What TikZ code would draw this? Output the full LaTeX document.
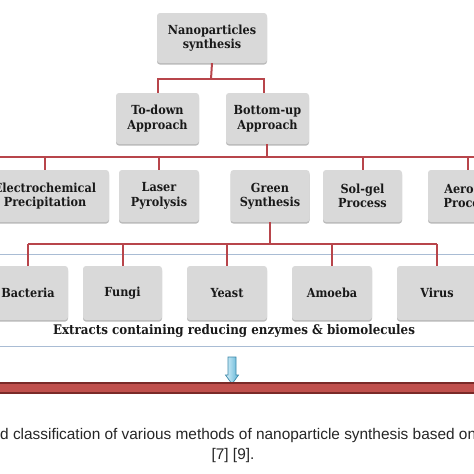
\documentclass[tikz,border=0pt]{standalone}
\usepackage{fontspec}
\setmainfont{DejaVu Serif Condensed}
\newfontfamily\capfont{Liberation Sans}
\usetikzlibrary{shadows}
\definecolor{conred}{HTML}{B8454B}
\definecolor{boxgray}{HTML}{D9D9D9}
\definecolor{rule}{HTML}{A9BCD4}
\definecolor{barred}{HTML}{C0504D}
\definecolor{bardark}{HTML}{7A2A28}
\definecolor{arrowlight}{HTML}{D6F0FA}
\definecolor{arrowdark}{HTML}{5FB4D6}
\definecolor{arrowline}{HTML}{3B87A8}
\tikzset{
  gbox/.style={fill=boxgray, rounded corners=3pt, inner sep=0pt, align=center,
    font=\bfseries\fontsize{12.5}{14.5}\selectfont, text=black!90,
    drop shadow={shadow xshift=0pt, shadow yshift=-1.6pt, fill=black!45, opacity=0.6}},
  conn/.style={draw=conred, line width=2pt},
}
\begin{document}
\begin{tikzpicture}[x=1pt,y=-1pt]
\useasboundingbox (0,0) rectangle (474,474);
\clip (0,0) rectangle (474,474);
\fill[white] (0,0) rectangle (474,474);
% thin rules
\draw[rule, line width=0.8pt] (-5,254) -- (479,254);
\draw[rule, line width=0.8pt] (-5,346) -- (479,346);
% level 1
\node[gbox, minimum width=110pt, minimum height=50pt] (top) at (212,38) {Nanoparticles\\synthesis};
% level 2
\node[gbox, minimum width=83pt, minimum height=51pt] (todown) at (157.5,118.5) {To-down\\Approach};
\node[gbox, minimum width=83pt, minimum height=51pt] (bottomup) at (267.5,118.5) {Bottom-up\\Approach};
% level 3
\node[gbox, minimum width=128pt, minimum height=52pt] (electro) at (45,196) {Electrochemical\\Precipitation};
\node[gbox, minimum width=80pt, minimum height=52pt] (laser) at (159,196) {Laser\\Pyrolysis};
\node[gbox, minimum width=79pt, minimum height=52pt] (green) at (270,196) {Green\\Synthesis};
\node[gbox, minimum width=79pt, minimum height=52pt] (solgel) at (362.5,196) {Sol-gel\\Process};
\node[gbox, minimum width=80pt, minimum height=52pt] (aerosol) at (468,196) {Aerosol\\Process};
% level 4
\node[gbox, minimum width=80pt, minimum height=54pt] (bacteria) at (28,293) {Bacteria};
\node[gbox, minimum width=79pt, minimum height=54pt] (fungi) at (122.5,293) {Fungi};
\node[gbox, minimum width=80pt, minimum height=54pt] (yeast) at (227,293) {Yeast};
\node[gbox, minimum width=80pt, minimum height=54pt] (amoeba) at (332,293) {Amoeba};
\node[gbox, minimum width=80pt, minimum height=54pt] (virus) at (437,293) {Virus};
% extracts text
\node[font=\bfseries\fontsize{13.2}{15}\selectfont, text=black!90, inner sep=0pt] (extracts) at (234,331) {Extracts containing reducing enzymes \& biomolecules};
% connectors level 1-2
\coordinate (j1) at (211,79);
\draw[conn] (top.south) -- (j1);
\draw[conn] (j1) -| (todown.north);
\draw[conn] (j1) -| ([xshift=-4pt]bottomup.north);
% connectors level 2-3
\coordinate (j2) at (267,157);
\coordinate (bl) at (-5,157);
\coordinate (br) at (479,157);
\draw[conn] ([xshift=-0.5pt]bottomup.south) -- (j2);
\draw[conn] (bl) -- (br);
\draw[conn] (electro.north |- j2) -- (electro.north);
\draw[conn] (laser.north |- j2) -- (laser.north);
\draw[conn] (solgel.north |- j2) -- (solgel.north);
\draw[conn] (aerosol.north |- j2) -- (aerosol.north);
% connectors level 3-4
\coordinate (j3) at (270,244);
\draw[conn] (green.south) -- (j3);
\draw[conn] (bacteria.north |- j3) -- (virus.north |- j3);
\draw[conn] (bacteria.north |- j3) -- (bacteria.north);
\draw[conn] (fungi.north |- j3) -- (fungi.north);
\draw[conn] (yeast.north |- j3) -- (yeast.north);
\draw[conn] (amoeba.north |- j3) -- (amoeba.north);
\draw[conn] (virus.north |- j3) -- (virus.north);
% arrow
\shade[left color=arrowlight, right color=arrowdark, draw=arrowline, line width=0.7pt]
  (228,357) -- (236,357) -- (236,375) -- (238.5,375) -- (232,384) -- (225.5,375) -- (228,375) -- cycle;
% red bar
\node[fill=barred, draw=bardark, line width=1.4pt, minimum width=490pt, minimum height=10pt, inner sep=0pt] (bar) at (237,388) {};
% caption
\node[font=\capfont\fontsize{15.4}{20}\selectfont, text=black!85, anchor=base west, inner sep=0pt] (cap1) at (0,439) {d classification of various methods of nanoparticle synthesis based on};
\node[font=\capfont\fontsize{15.4}{20}\selectfont, text=black!85, anchor=base, inner sep=0pt] (cap2) at (233,459) {[7] [9].};
\end{tikzpicture}
\end{document}
